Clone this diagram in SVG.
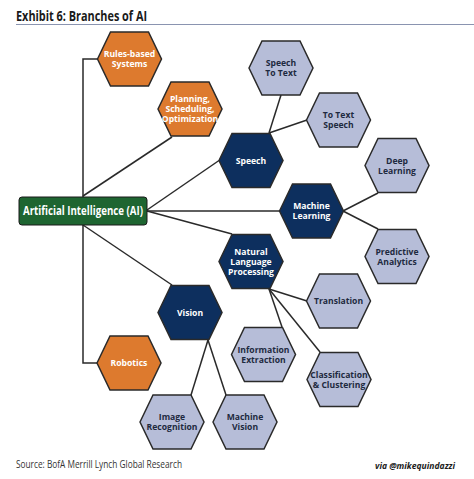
<svg xmlns="http://www.w3.org/2000/svg" xmlns:xlink="http://www.w3.org/1999/xlink" width="474" height="479" viewBox="0 0 474 479">
<style>
.hex{stroke:#2a2a2a;stroke-width:1.5;}
.or{fill:#DD7A2E;}
.nv{fill:#0D2F5E;}
.lt{fill:#B6BDD8;}
.t{font-family:"Open Sans","Noto Sans",sans-serif;font-weight:bold;font-size:8.6px;text-anchor:middle;}
.tw{fill:#ffffff;}
.td{fill:#1E2A40;}
.ln{stroke:#2a2a2a;stroke-width:1.5;fill:none;}
</style>
<defs>
<path id="hx" d="M-32,0 L-19,-27 L19,-27 L32,0 L19,27 L-19,27 Z"/>
</defs>
<rect width="474" height="479" fill="#ffffff"/>
<g id="title">
<text x="16" y="21" font-family="Open Sans, Noto Sans, sans-serif" font-weight="bold" font-size="14" fill="#1a1a1a" textLength="131" lengthAdjust="spacingAndGlyphs">Exhibit 6: Branches of AI</text>
<line x1="16" y1="24.5" x2="474" y2="24.5" stroke="#8A94B0" stroke-width="1"/>
</g>
<g id="connectors">
<polyline class="ln" points="98,59 83,59 83,363 97,363"/>
<line class="ln" x1="83" y1="196" x2="172" y2="137"/>
<line class="ln" x1="147" y1="210" x2="219" y2="160.5"/>
<line class="ln" x1="147" y1="211" x2="280" y2="211"/>
<line class="ln" x1="147" y1="211" x2="232" y2="234"/>
<line class="ln" x1="83" y1="225" x2="172" y2="285"/>
<line class="ln" x1="269" y1="133" x2="281" y2="95"/>
<line class="ln" x1="269" y1="133" x2="307" y2="120"/>
<line class="ln" x1="343" y1="211" x2="378" y2="193"/>
<line class="ln" x1="343" y1="211" x2="378" y2="229"/>
<line class="ln" x1="269" y1="289" x2="307" y2="301"/>
<line class="ln" x1="269" y1="289" x2="282" y2="327"/>
<line class="ln" x1="269" y1="289" x2="320" y2="352"/>
<line class="ln" x1="208" y1="340" x2="191" y2="395"/>
<line class="ln" x1="208" y1="340" x2="226" y2="395"/>
</g>
<g id="ai">
<rect x="19" y="197" width="128" height="28" rx="3" fill="#1E6531" stroke="#1a1a1a" stroke-width="1"/>
<text x="83" y="215" font-family="Open Sans, Noto Sans, sans-serif" font-weight="bold" font-size="11.5" fill="#ffffff" text-anchor="middle" textLength="120" lengthAdjust="spacingAndGlyphs">Artificial Intelligence (AI)</text>
</g>
<g id="rules">
<use xlink:href="#hx" x="129.5" y="59" class="hex or"/>
<text class="t tw" x="129.5" y="57">Rules-based</text>
<text class="t tw" x="129.5" y="67">Systems</text>
</g>
<g id="planning">
<use xlink:href="#hx" x="190" y="109" class="hex or"/>
<text class="t tw" x="190" y="102">Planning,</text>
<text class="t tw" x="190" y="112">Scheduling,</text>
<text class="t tw" x="190" y="122">Optimization</text>
</g>
<g id="robotics">
<use xlink:href="#hx" x="129" y="363" class="hex or"/>
<text class="t tw" x="129" y="366">Robotics</text>
</g>
<g id="speech">
<use xlink:href="#hx" x="251" y="160.5" class="hex nv"/>
<text class="t tw" x="251" y="163.5">Speech</text>
</g>
<g id="ml">
<use xlink:href="#hx" x="311.5" y="211" class="hex nv"/>
<text class="t tw" x="311.5" y="209">Machine</text>
<text class="t tw" x="311.5" y="219">Learning</text>
</g>
<g id="nlp">
<use xlink:href="#hx" x="251" y="261.5" class="hex nv"/>
<text class="t tw" x="251" y="254.5">Natural</text>
<text class="t tw" x="251" y="264.5">Language</text>
<text class="t tw" x="251" y="274.5">Processing</text>
</g>
<g id="vision">
<use xlink:href="#hx" x="190" y="312.5" class="hex nv"/>
<text class="t tw" x="190" y="315.5">Vision</text>
</g>
<g id="stt">
<use xlink:href="#hx" x="281" y="68" class="hex lt"/>
<text class="t td" x="281" y="66">Speech</text>
<text class="t td" x="281" y="76">To Text</text>
</g>
<g id="tts">
<use xlink:href="#hx" x="338.5" y="120" class="hex lt"/>
<text class="t td" x="338.5" y="118">To Text</text>
<text class="t td" x="338.5" y="128">Speech</text>
</g>
<g id="deep">
<use xlink:href="#hx" x="397" y="165.5" class="hex lt"/>
<text class="t td" x="397" y="163.5">Deep</text>
<text class="t td" x="397" y="173.5">Learning</text>
</g>
<g id="predictive">
<use xlink:href="#hx" x="397" y="256.5" class="hex lt"/>
<text class="t td" x="397" y="254.5">Predictive</text>
<text class="t td" x="397" y="264.5">Analytics</text>
</g>
<g id="translation">
<use xlink:href="#hx" x="338.5" y="301" class="hex lt"/>
<text class="t td" x="338.5" y="304">Translation</text>
</g>
<g id="info">
<use xlink:href="#hx" x="263.5" y="354.5" class="hex lt"/>
<text class="t td" x="263.5" y="352.5">Information</text>
<text class="t td" x="263.5" y="362.5">Extraction</text>
</g>
<g id="classification">
<use xlink:href="#hx" x="339" y="379.5" class="hex lt"/>
<text class="t td" x="339" y="377.5">Classification</text>
<text class="t td" x="339" y="387.5">&amp; Clustering</text>
</g>
<g id="imagerec">
<use xlink:href="#hx" x="172" y="422" class="hex lt"/>
<text class="t td" x="172" y="420">Image</text>
<text class="t td" x="172" y="430">Recognition</text>
</g>
<g id="machinevision">
<use xlink:href="#hx" x="245" y="422" class="hex lt"/>
<text class="t td" x="245" y="420">Machine</text>
<text class="t td" x="245" y="430">Vision</text>
</g>
<g id="footer">
<text x="16" y="468" font-family="Open Sans, Noto Sans, sans-serif" font-size="11" fill="#333333" textLength="166" lengthAdjust="spacingAndGlyphs">Source: BofA Merrill Lynch Global Research</text>
<text x="455" y="469" font-family="Open Sans, Noto Sans, sans-serif" font-weight="bold" font-style="italic" font-size="8.5" fill="#1a1a1a" text-anchor="end" textLength="80" lengthAdjust="spacingAndGlyphs">via @mikequindazzi</text>
</g>
</svg>
